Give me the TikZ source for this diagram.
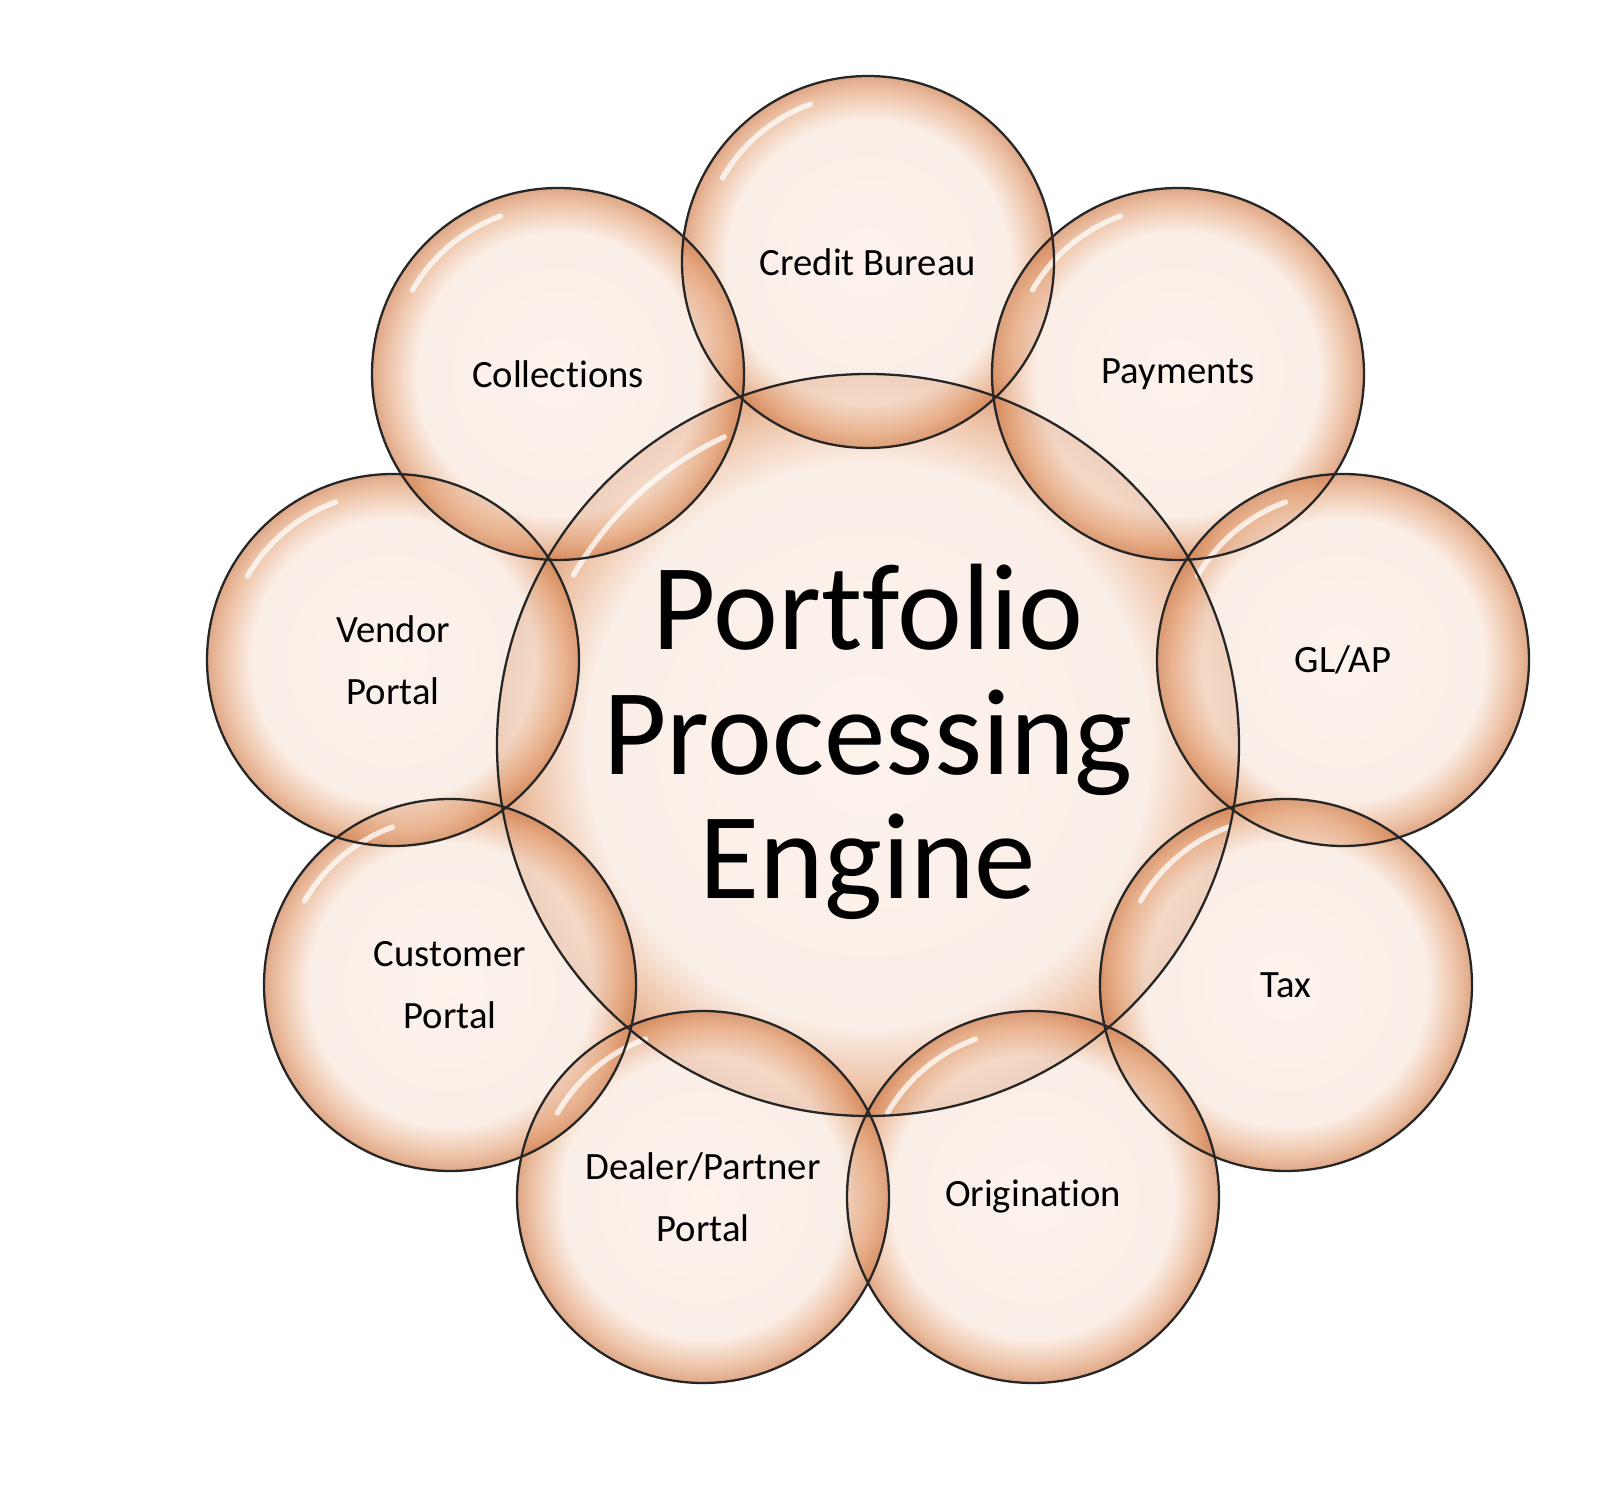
\documentclass[tikz,border=0pt]{standalone}
\usepackage{fontspec}
\setmainfont[Ligatures={NoCommon,NoRequired,NoContextual}]{Carlito}
\usetikzlibrary{calc}
\pgfdeclareradialshading{bubble}{\pgfpoint{0bp}{0bp}}{%
 color(0bp)=(rgb,255:red,250;green,236;blue,226);
 color(19bp)=(rgb,255:red,248;green,230;blue,218);
 color(23bp)=(rgb,255:red,228;green,162;blue,118);
 color(25bp)=(rgb,255:red,205;green,120;blue,70)}
\begin{document}
\begin{tikzpicture}[x=0.02cm,y=-0.02cm,
  bub/.style={shading=bubble,fill opacity=0.65},
  rim/.style={draw=black!85,line width=1.3pt},
  lab/.style={font=\fontsize{22}{35}\selectfont,align=center,text=black},
  hl/.style={draw=white,line width=3pt,opacity=0.75,line cap=round}]
\useasboundingbox (0,0) rectangle (1600,1493);
\coordinate (c0) at (868,745);
\foreach \n/\x/\y in {a/868/262,b/1178/374,c/1343/660,d/1286/985,e/1033/1197,f/703/1197,g/450/985,h/393/660,i/558/374}{
  \coordinate (\n) at (\x,\y);}
% fills
\shade[bub] (c0) circle[radius=371];
\foreach \n in {a,b,c,d,e,f,g,h,i}{\shade[bub] (\n) circle[radius=186];}
% highlights
\foreach \n in {a,b,c,d,e,f,g,h,i}{
  \draw[hl] ($(\n)+(-150:168)$) arc[start angle=-150,end angle=-110,radius=168];}
\draw[hl] ($(c0)+(-150:340)$) arc[start angle=-150,end angle=-115,radius=340];
% rims
\draw[rim] (c0) circle[radius=371];
\foreach \n in {a,b,c,d,e,f,g,h,i}{\draw[rim] (\n) circle[radius=186];}
% labels
\node[font=\fontsize{70}{71}\selectfont,align=center] (center) at (868,742) {Portfolio\\Processing\\Engine};
\node[lab] (la) at (868,262) {Credit Bureau};
\node[lab] (lb) at (1178,374) {Payments};
\node[lab] (lc) at (1343,660) {GL/AP};
\node[lab] (ld) at (1286,985) {Tax};
\node[lab] (le) at (1033,1197) {Origination};
\node[lab] (lf) at (703,1197) {Dealer/Partner\\Portal};
\node[lab] (lg) at (450,985) {Customer\\Portal};
\node[lab] (lh) at (393,660) {Vendor\\Portal};
\node[lab] (li) at (558,374) {Collections};
\end{tikzpicture}
\end{document}
